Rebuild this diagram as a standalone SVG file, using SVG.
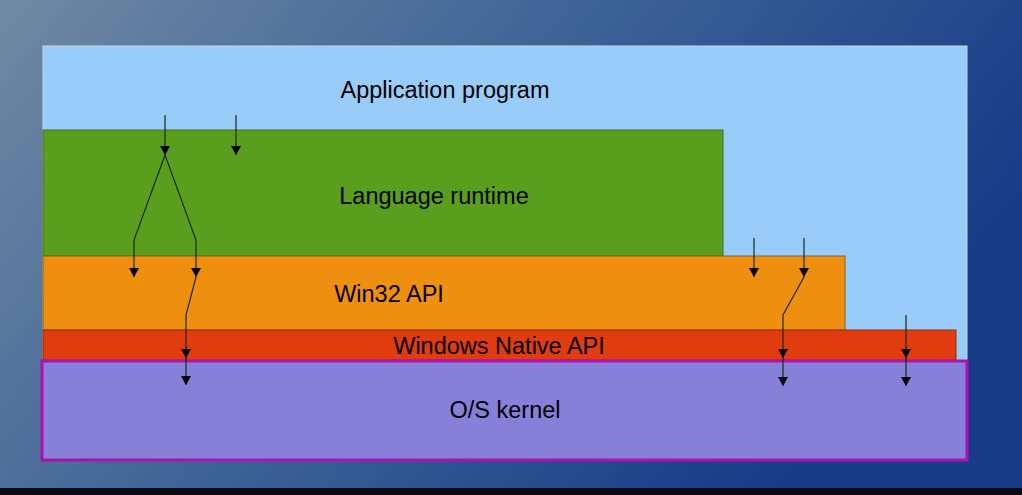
<svg xmlns="http://www.w3.org/2000/svg" width="1022" height="495" viewBox="0 0 1022 495">
<defs>
<linearGradient id="bg" x1="0" y1="0" x2="1" y2="0.4">
<stop offset="0" stop-color="#7089a3"/><stop offset="0.5" stop-color="#3e6396"/><stop offset="1" stop-color="#173b86"/>
</linearGradient>
<marker id="ah" markerWidth="10" markerHeight="10" refX="9" refY="5" orient="auto" viewBox="0 0 10 10" markerUnits="userSpaceOnUse"><path d="M0,0 L9,5 L0,10 Z" fill="#000"/></marker>
<style>
text{font-family:"Liberation Sans",Arial,sans-serif;font-size:23.5px;fill:#000;text-anchor:middle}
.c{fill:none;stroke:#1a2a10;stroke-width:1.2}
.a{marker-end:url(#ah)}
</style>
</defs>
<rect width="1022" height="495" fill="url(#bg)"/>
<rect y="488" width="1022" height="7" fill="#0a0a14"/>
<g id="app"><rect x="43" y="46" width="924" height="414" fill="#99ccf8" stroke="#c8d8e8" stroke-width="1"/><text x="445" y="98">Application program</text></g>
<g id="runtime"><rect x="43" y="130" width="680" height="126" fill="#5a9e1e" stroke="#4a6a20"/><text x="434" y="204">Language runtime</text></g>
<g id="win32"><rect x="43" y="256" width="802" height="74" fill="#ef8f10" stroke="#8a6020"/><text x="389" y="302">Win32 API</text></g>
<g id="native"><rect x="43" y="330" width="913" height="30" fill="#e03c10" stroke="#8a3010"/><text x="499" y="354">Windows Native API</text></g>
<g id="kernel"><rect x="42" y="361" width="925" height="99" fill="#8680d8" stroke="#b010b0" stroke-width="3"/><text x="505" y="418">O/S kernel</text></g>
<g id="connectors">
<path class="c a" d="M165,115 V155"/>
<path class="c a" d="M236,115 V155"/>
<path class="c a" d="M165,155 L134,240 V277"/>
<path class="c a" d="M165,155 L196,240 V277"/>
<path class="c a" d="M196,277 L186,315 V358"/>
<path class="c a" d="M186,357 V385"/>
<path class="c a" d="M754,238 V277"/>
<path class="c a" d="M804,238 V277"/>
<path class="c a" d="M804,277 L783,315 V358"/>
<path class="c a" d="M783,357 V386"/>
<path class="c a" d="M906,315 V358"/>
<path class="c a" d="M906,357 V386"/>
</g>
</svg>
